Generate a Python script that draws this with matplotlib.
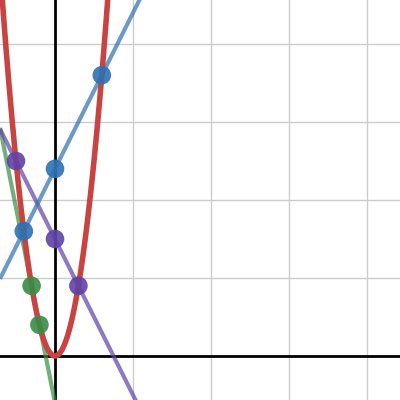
import numpy as np
import matplotlib
matplotlib.use("Agg")
import matplotlib.pyplot as plt

# curves: parabola y = a x^2, lines y = m x + b
parab_a = 10.0
blue_line = (2.0, 2.4)
purple_line = (-2.0, 1.5)
green_line = (-5.0, -0.6)
blue_pts_x = [-0.4, 0.0, 0.6]
purple_pts_x = [-0.5, 0.0, 0.3]
green_pts_x = [-0.3, -0.2]

RED, BLUE, GREEN, PURPLE = "#c74440", "#2d70b3", "#388c46", "#6042a6"

fig = plt.figure(figsize=(4, 4), dpi=100)
ax = fig.add_axes([0, 0, 1, 1])
xmin, xmax = -55/78, 345/78
ymin, ymax = -44/78, 356/78
ax.set_xlim(xmin, xmax); ax.set_ylim(ymin, ymax)
for g in range(1, 5):
    ax.axvline(g, color="#cccccc", lw=1, zorder=0)
for g in range(1, 5):
    ax.axhline(g, color="#cccccc", lw=1, zorder=0)
ax.axvline(0, color="black", lw=2, zorder=1)
ax.axhline(0, color="black", lw=2, zorder=1)

xs = np.linspace(xmin, xmax, 800)
for (m, b), c in [(green_line, GREEN), (purple_line, PURPLE), (blue_line, BLUE)]:
    ax.plot(xs, m*xs + b, color=c, lw=3, alpha=0.7, zorder=2, solid_capstyle="butt")
ax.plot(xs, parab_a*xs**2, color=RED, lw=4, alpha=1.0, zorder=3)

for pts, (m, b), c in [(green_pts_x, green_line, GREEN), (purple_pts_x, purple_line, PURPLE), (blue_pts_x, blue_line, BLUE)]:
    px = np.array(pts)
    ax.scatter(px, m*px + b, s=180, color=c, alpha=0.9, zorder=4, edgecolors="none")

ax.axis("off")
fig.savefig("out.png", dpi=100)
